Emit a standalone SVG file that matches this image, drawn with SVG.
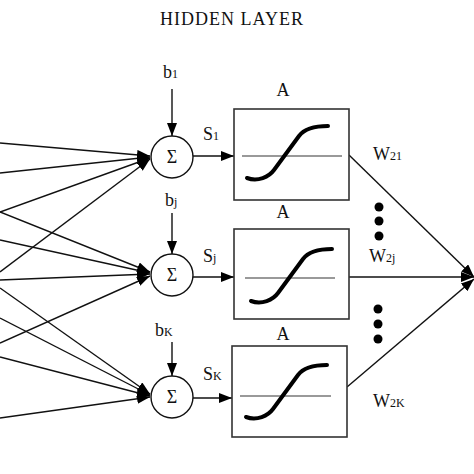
<svg xmlns="http://www.w3.org/2000/svg" width="474" height="474" viewBox="0 0 474 474">
<style>
text{font-family:"Liberation Serif","Times New Roman",serif;fill:#111}
.lbl{font-size:18px}
.sub{font-size:12px}
.sig{font-size:18px}
.ln{stroke:#111;stroke-width:1.4;fill:none}
.box{fill:#fff;stroke:#333;stroke-width:1.6}
.axis{stroke:#777;stroke-width:1.3}
.curve{fill:none;stroke:#000;stroke-width:4;stroke-linecap:round}
.node{fill:#fff;stroke:#111;stroke-width:1.4}
.dot{fill:#000}
</style>
<defs>
<marker id="ah" markerUnits="userSpaceOnUse" markerWidth="14" markerHeight="12" refX="13" refY="5" orient="auto">
<path d="M0,0 L13,5 L0,10 Z" fill="#000"/>
</marker>
<path id="sigmoid" class="curve" d="M247,178 C258,182 269,176.8 274,170 L299,136 C304,129.2 314,126 328,126"/>
</defs>
<text x="232" y="25" class="lbl" text-anchor="middle" letter-spacing="1">HIDDEN LAYER</text>
<g id="connectors">
<line class="ln" x1="0" y1="143" x2="150" y2="156" marker-end="url(#ah)"/>
<line class="ln" x1="0" y1="173" x2="150" y2="157" marker-end="url(#ah)"/>
<line class="ln" x1="0" y1="212" x2="150" y2="158" marker-end="url(#ah)"/>
<line class="ln" x1="0" y1="272" x2="150" y2="159" marker-end="url(#ah)"/>
<line class="ln" x1="0" y1="212" x2="150" y2="272" marker-end="url(#ah)"/>
<line class="ln" x1="0" y1="240" x2="150" y2="273" marker-end="url(#ah)"/>
<line class="ln" x1="0" y1="280" x2="150" y2="274" marker-end="url(#ah)"/>
<line class="ln" x1="0" y1="343" x2="150" y2="276" marker-end="url(#ah)"/>
<line class="ln" x1="0" y1="288" x2="150" y2="394" marker-end="url(#ah)"/>
<line class="ln" x1="0" y1="318" x2="150" y2="395" marker-end="url(#ah)"/>
<line class="ln" x1="0" y1="357" x2="150" y2="396" marker-end="url(#ah)"/>
<line class="ln" x1="0" y1="418" x2="150" y2="397" marker-end="url(#ah)"/>
<line class="ln" x1="172" y1="89" x2="172" y2="136" marker-end="url(#ah)"/>
<line class="ln" x1="172" y1="213" x2="172" y2="254" marker-end="url(#ah)"/>
<line class="ln" x1="172" y1="342" x2="172" y2="376" marker-end="url(#ah)"/>
<line class="ln" x1="193" y1="156" x2="234" y2="156" marker-end="url(#ah)"/>
<line class="ln" x1="193" y1="277" x2="234" y2="277" marker-end="url(#ah)"/>
<line class="ln" x1="193" y1="398" x2="232" y2="398" marker-end="url(#ah)"/>
<line class="ln" x1="349" y1="155" x2="474" y2="277" marker-end="url(#ah)"/>
<line class="ln" x1="349" y1="277" x2="474" y2="277" marker-end="url(#ah)"/>
<line class="ln" x1="347" y1="387" x2="474" y2="279" marker-end="url(#ah)"/>
</g>
<g id="sum1">
<circle class="node" cx="172" cy="157" r="21"/>
<text x="172" y="163" class="sig" text-anchor="middle">Σ</text>
</g>
<g id="sum2">
<circle class="node" cx="172" cy="275" r="21"/>
<text x="172" y="281" class="sig" text-anchor="middle">Σ</text>
</g>
<g id="sum3">
<circle class="node" cx="172" cy="397" r="21"/>
<text x="172" y="403" class="sig" text-anchor="middle">Σ</text>
</g>
<g id="bias1"><text x="163" y="78" class="lbl">b<tspan class="sub">1</tspan></text></g>
<g id="biasj"><text x="165" y="206" class="lbl">b<tspan class="sub">j</tspan></text></g>
<g id="biasK"><text x="155" y="336" class="lbl">b<tspan class="sub">K</tspan></text></g>
<g id="s1"><text x="203" y="140" class="lbl">S<tspan class="sub">1</tspan></text></g>
<g id="sj"><text x="203" y="262" class="lbl">S<tspan class="sub">j</tspan></text></g>
<g id="sK"><text x="203" y="380" class="lbl">S<tspan class="sub">K</tspan></text></g>
<g id="act1">
<text x="283" y="96" class="lbl" text-anchor="middle">A</text>
<rect class="box" x="234" y="109" width="115" height="91"/>
<line class="axis" x1="242" y1="156" x2="342" y2="156"/>
<use href="#sigmoid"/>
</g>
<g id="act2">
<text x="283" y="218" class="lbl" text-anchor="middle">A</text>
<rect class="box" x="234" y="229" width="115" height="90"/>
<line class="axis" x1="245" y1="278" x2="335" y2="278"/>
<use href="#sigmoid" transform="translate(4,123)"/>
</g>
<g id="act3">
<text x="283" y="340" class="lbl" text-anchor="middle">A</text>
<rect class="box" x="232" y="346" width="115" height="91"/>
<line class="axis" x1="240" y1="396" x2="331" y2="396"/>
<use href="#sigmoid" transform="translate(-1,239)"/>
</g>
<g id="w21"><text x="373" y="160" class="lbl">W<tspan class="sub">21</tspan></text></g>
<g id="w2j"><text x="369" y="262" class="lbl">W<tspan class="sub">2j</tspan></text></g>
<g id="w2K"><text x="373" y="407" class="lbl">W<tspan class="sub">2K</tspan></text></g>
<g id="dots1">
<circle class="dot" cx="379" cy="207" r="4.5"/>
<circle class="dot" cx="379" cy="221" r="4.5"/>
<circle class="dot" cx="379" cy="236" r="4.5"/>
</g>
<g id="dots2">
<circle class="dot" cx="378" cy="309" r="4.5"/>
<circle class="dot" cx="378" cy="324" r="4.5"/>
<circle class="dot" cx="378" cy="339" r="4.5"/>
</g>
</svg>
